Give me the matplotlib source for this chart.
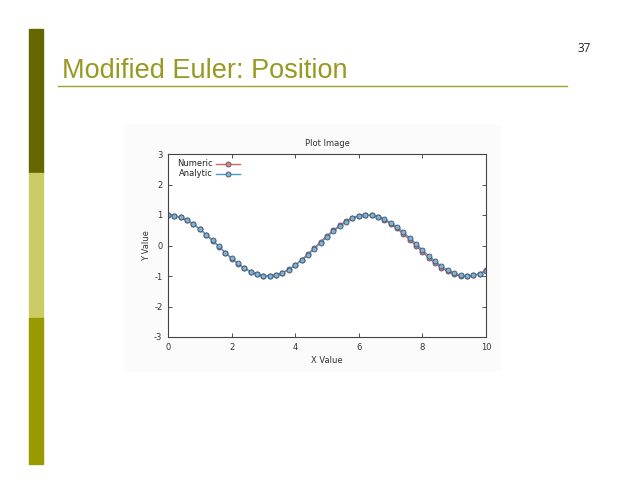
import numpy as np
import matplotlib.pyplot as plt
from matplotlib.patches import Rectangle
from matplotlib.lines import Line2D

plt.rcParams['font.family'] = ['DejaVu Sans']
plt.rcParams['axes.unicode_minus'] = False

x_vals = [round(0.2 * k, 1) for k in range(51)]
analytic = [1.00, 0.98, 0.92, 0.83, 0.70, 0.54, 0.36, 0.17, -0.03, -0.23,
            -0.42, -0.59, -0.74, -0.86, -0.94, -0.99, -1.00, -0.97, -0.90, -0.79,
            -0.65, -0.49, -0.31, -0.11, 0.09, 0.28, 0.47, 0.63, 0.78, 0.89,
            0.96, 1.00, 0.99, 0.95, 0.87, 0.75, 0.61, 0.44, 0.25, 0.05,
            -0.15, -0.34, -0.52, -0.68, -0.81, -0.91, -0.97, -1.00, -0.98, -0.93,
            -0.84]
numeric = [1.00, 0.98, 0.92, 0.82, 0.69, 0.54, 0.35, 0.16, -0.04, -0.24,
           -0.43, -0.60, -0.75, -0.87, -0.95, -1.00, -1.00, -0.96, -0.89, -0.78,
           -0.64, -0.47, -0.28, -0.08, 0.12, 0.32, 0.50, 0.66, 0.80, 0.91,
           0.98, 1.01, 0.99, 0.94, 0.84, 0.71, 0.56, 0.38, 0.19, -0.01,
           -0.21, -0.41, -0.58, -0.73, -0.85, -0.95, -1.00, -1.01, -0.98, -0.92,
           -0.81]

W, H = 638, 493
fig = plt.figure(figsize=(W / 100, H / 100), dpi=100)
fig.patch.set_facecolor('white')

# slide decoration: left vertical bar in three olive shades
bar_cols = ['#666600', '#cccc66', '#999900']
bar_y = [29, 173, 318, 464]
for i, c in enumerate(bar_cols):
    fig.patches.append(Rectangle((29 / W, 1 - bar_y[i + 1] / H), 14 / W,
                                 (bar_y[i + 1] - bar_y[i]) / H,
                                 transform=fig.transFigure, color=c, zorder=0))

fig.text(62 / W, 1 - 78 / H, 'Modified Euler: Position', color='#999922',
         fontsize=19.5, family=['Liberation Sans'],
         ha='left', va='baseline')
fig.add_artist(Line2D([58 / W, 567 / W], [1 - 86 / H, 1 - 86 / H],
                      transform=fig.transFigure, color='#a0a030', lw=1.0))
fig.text(578 / W, 1 - 52 / H, '37', fontsize=8.5, color='#222222',
         ha='left', va='baseline', family=['Open Sans', 'DejaVu Sans'])

# faint background of the embedded plot image
fig.patches.append(Rectangle((125 / W, 1 - 370 / H), 375 / W, 245 / H,
                             transform=fig.transFigure, color='#fbfbfb', zorder=-1))

ax = fig.add_axes([168 / W, 1 - 337 / H, 318 / W, 183 / H])
ax.set_zorder(5)
ax.set_facecolor('white')
ax.plot(x_vals, numeric, color='#e06060', lw=1.0, marker='o', ms=3.6,
        mfc='#e08080', mec='#555566', mew=0.6)
ax.plot(x_vals, analytic, color='#4a9cc8', lw=1.0, marker='o', ms=3.6,
        mfc='#7ab4d8', mec='#44506a', mew=0.6)
ax.set_xlim(0, 10)
ax.set_ylim(-3, 3)
ax.set_xticks([0, 2, 4, 6, 8, 10])
ax.set_yticks([-3, -2, -1, 0, 1, 2, 3])
ax.tick_params(direction='in', top=True, right=True, labelsize=6,
               length=3, width=0.6, colors='#333333', pad=4)
for s in ax.spines.values():
    s.set_color('#444444')
    s.set_linewidth(0.8)
ax.set_title('Plot Image', fontsize=6, color='#333333', pad=6)
ax.set_xlabel('X Value', fontsize=6, color='#333333', labelpad=3)
ax.set_ylabel('Y Value', fontsize=6, color='#333333', labelpad=2)

# gnuplot style key: label then sample to its right
for i, (lab, lc, fc, ec) in enumerate([('Numeric', '#e06060', '#e08080', '#555566'),
                                       ('Analytic', '#4a9cc8', '#7ab4d8', '#44506a')]):
    yk = 0.947 - i * 0.055
    ax.text(0.142, yk, lab, transform=ax.transAxes, fontsize=6,
            color='#222222', ha='right', va='center')
    ax.plot([0.152, 0.225], [yk, yk], transform=ax.transAxes, color=lc, lw=1.0)
    ax.plot([0.188], [yk], transform=ax.transAxes, marker='o', ms=3.6,
            mfc=fc, mec=ec, mew=0.6)

fig.savefig('out.png', dpi=100)
